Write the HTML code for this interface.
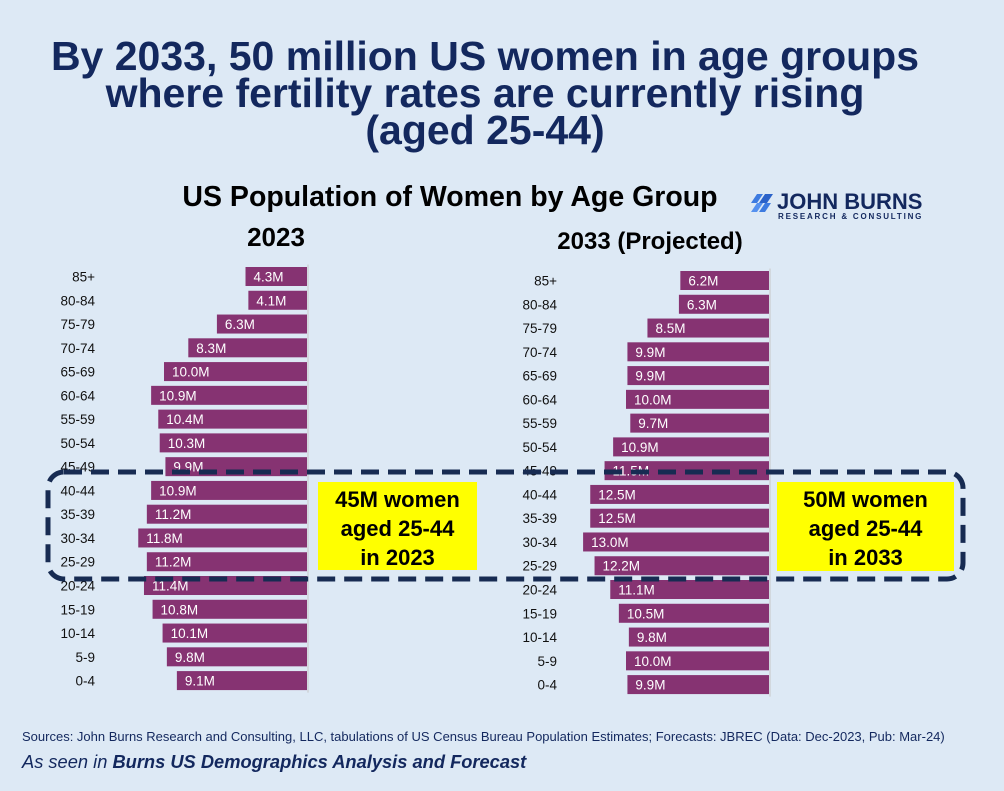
<!DOCTYPE html>
<html><head><meta charset="utf-8"><style>
body{margin:0;width:1004px;height:791px;background:#dde9f5;font-family:"Liberation Sans",sans-serif;position:relative;overflow:hidden}
.t{position:absolute;text-align:center}
</style></head><body>
<div class="t" style="left:0;top:38px;width:970px;font-size:41px;font-weight:bold;color:#13285e;line-height:37px">By 2033, 50 million US women in age groups<br>where fertility rates are currently rising<br>(aged 25-44)</div>
<div class="t" style="left:150px;top:181px;width:600px;font-size:28.5px;font-weight:bold;color:#000">US Population of Women by Age Group</div>
<div style="position:absolute;left:751px;top:191px;width:180px;height:32px">
<svg width="24" height="18" style="position:absolute;left:0;top:3px"><polygon points="6,0 12,0 6,9 0,9" fill="#3d7be0"/><polygon points="14,0 22,0 16,9 8,9" fill="#2a62c9"/><polygon points="6,9 12,9 6,18 0,18" fill="#5591ef"/><polygon points="14,9 20,9 14,18 8,18" fill="#3d7be0"/></svg>
<div style="position:absolute;left:26px;top:-2px;font-size:22px;font-weight:bold;color:#13285e;letter-spacing:0px">JOHN BURNS</div>
<div style="position:absolute;left:27px;top:21px;font-size:8px;font-weight:bold;color:#13285e;letter-spacing:1.8px">RESEARCH &amp; CONSULTING</div>
</div>
<div class="t" style="left:176px;top:222px;width:200px;font-size:26px;font-weight:bold">2023</div>
<div class="t" style="left:520px;top:228px;width:260px;font-size:24px;font-weight:bold">2033 (Projected)</div>
<svg id="c" width="1004" height="791" style="position:absolute;left:0;top:0"></svg>
<div class="t" style="left:318px;top:482px;width:159px;height:88px;background:#ffff00;font-size:22px;font-weight:bold;line-height:29px;padding-top:3px;box-sizing:border-box">45M women<br>aged 25-44<br>in 2023</div>
<div class="t" style="left:777px;top:482px;width:177px;height:89px;background:#ffff00;font-size:22px;font-weight:bold;line-height:29px;padding-top:3px;box-sizing:border-box">50M women<br>aged 25-44<br>in 2033</div>
<div style="position:absolute;left:22px;top:729px;font-size:13px;color:#13285e">Sources: John Burns Research and Consulting, LLC, tabulations of US Census Bureau Population Estimates; Forecasts: JBREC (Data: Dec-2023, Pub: Mar-24)</div>
<div style="position:absolute;left:22px;top:751px;font-size:18.3px;font-style:italic;color:#13285e">As seen in <b>Burns US Demographics Analysis and Forecast</b></div>
<script>
const ages=["85+","80-84","75-79","70-74","65-69","60-64","55-59","50-54","45-49","40-44","35-39","30-34","25-29","20-24","15-19","10-14","5-9","0-4"];
const vals2023=[4.3,4.1,6.3,8.3,10.0,10.9,10.4,10.3,9.9,10.9,11.2,11.8,11.2,11.4,10.8,10.1,9.8,9.1];
const vals2033=[6.2,6.3,8.5,9.9,9.9,10.0,9.7,10.9,11.5,12.5,12.5,13.0,12.2,11.1,10.5,9.8,10.0,9.9];
const svg=document.getElementById('c');const NS='http://www.w3.org/2000/svg';
function mk(t,a){const e=document.createElementNS(NS,t);for(const k in a)e.setAttribute(k,a[k]);svg.appendChild(e);return e;}
function draw(vals,right,top,labX,pfx){
 const sc=14.3,pitch=23.77;
 const ax=mk('line',{x1:right+1,x2:right+1,y1:top-12,y2:top+17*pitch+12,stroke:'#c8c8c8','stroke-width':1});
 
 
 vals.forEach((v,i)=>{const cy=top+i*pitch;const w=v*sc;
  const r=mk('rect',{x:right-w,y:cy-9.5,width:w,height:19,fill:'#863372'});
  
  
  const t=mk('text',{x:right-w+8,y:cy+5,fill:'#fff','font-size':13.5,'font-family':'Liberation Sans'});t.textContent=v.toFixed(1)+'M';
  
  
  const l=mk('text',{x:labX,y:cy+5,'text-anchor':'end',fill:'#111','font-size':13.5,'font-family':'Liberation Sans'});l.textContent=ages[i];
  
  
 });
}
draw(vals2023,307,276.5,95,'y2023');
draw(vals2033,769,280.5,557,'y2033');
const b=mk('rect',{x:48,y:472,width:915,height:107,rx:16,fill:'none',stroke:'#172b52','stroke-width':5,'stroke-dasharray':'18 9'});


</script>
</body></html>
